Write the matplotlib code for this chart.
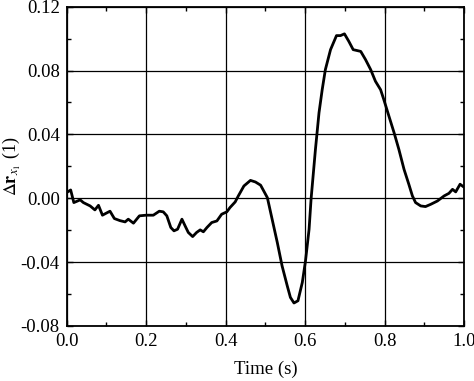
import matplotlib
matplotlib.use("Agg")
import matplotlib.pyplot as plt
from matplotlib.ticker import MultipleLocator

plt.rcParams['font.family'] = ['Liberation Serif', 'DejaVu Serif']
plt.rcParams['mathtext.fontset'] = 'stix'

time_s = [0.0, 0.01, 0.018, 0.034, 0.042, 0.059, 0.071, 0.08, 0.09, 0.099, 0.109,
          0.12, 0.134, 0.147, 0.155, 0.168, 0.183, 0.2, 0.218, 0.233, 0.243, 0.252,
          0.262, 0.27, 0.279, 0.29, 0.298, 0.306, 0.317, 0.327, 0.336, 0.344, 0.353,
          0.365, 0.378, 0.39, 0.403, 0.411, 0.424, 0.432, 0.446, 0.4625, 0.475, 0.488,
          0.505, 0.517, 0.53, 0.542, 0.555, 0.563, 0.572, 0.582, 0.593, 0.601, 0.61,
          0.615, 0.626, 0.635, 0.643, 0.651, 0.664, 0.679, 0.689, 0.699, 0.71, 0.721,
          0.74, 0.752, 0.765, 0.777, 0.79, 0.798, 0.811, 0.824, 0.836, 0.849, 0.861,
          0.87, 0.878, 0.891, 0.903, 0.916, 0.933, 0.95, 0.962, 0.971, 0.979, 0.99, 0.998]
delta_r = [0.0036, 0.0052, -0.0027, -0.001, -0.0027, -0.0048, -0.0073, -0.0044, -0.0106,
           -0.0094, -0.0081, -0.0127, -0.014, -0.0148, -0.0131, -0.0156, -0.011, -0.0106,
           -0.0106, -0.0081, -0.0085, -0.011, -0.0183, -0.0204, -0.0194, -0.0131, -0.0173,
           -0.0214, -0.024, -0.0214, -0.0198, -0.021, -0.0183, -0.0152, -0.0142, -0.01,
           -0.0085, -0.0058, -0.0023, 0.0015, 0.0077, 0.0112, 0.0102, 0.0082, 0.0004,
           -0.0131, -0.0277, -0.0423, -0.0548, -0.0621, -0.0656, -0.0642, -0.0527, -0.0392,
           -0.0194, -0.0006, 0.0306, 0.0536, 0.068, 0.0806, 0.0931, 0.1019, 0.1019, 0.103,
           0.0983, 0.0931, 0.092, 0.0869, 0.0806, 0.0733, 0.068, 0.0619, 0.0514, 0.041,
           0.0306, 0.0181, 0.0088, 0.0015, -0.0027, -0.0048, -0.0052, -0.0038, -0.0017,
           0.0015, 0.0031, 0.0056, 0.004, 0.0088, 0.0073]

x_ticks = [0.0, 0.2, 0.4, 0.6, 0.8, 1.0]
x_tick_labels = ["0.0", "0.2", "0.4", "0.6", "0.8", "1.0"]
y_ticks = [-0.08, -0.04, 0.00, 0.04, 0.08, 0.12]
y_tick_labels = ["-0.08", "-0.04", "0.00", "0.04", "0.08", "0.12"]

fig = plt.figure(figsize=(4.74, 3.81), dpi=100)
ax = fig.add_axes([0.1407, 0.1444, 0.979 - 0.1407, 0.9824 - 0.1444])

ax.plot(time_s, delta_r, color='black', lw=2.0, zorder=3)

ax.set_xlim(0, 1.0)
ax.set_ylim(-0.08, 0.12)
ax.set_xticks(x_ticks)
ax.set_xticklabels(x_tick_labels)
ax.set_yticks(y_ticks)
ax.set_yticklabels(y_tick_labels)
ax.xaxis.set_minor_locator(MultipleLocator(0.1))
ax.yaxis.set_minor_locator(MultipleLocator(0.02))
ax.tick_params(which='both', direction='in', top=True, right=True, labelsize=13.5,
               width=1.0, color='black')
ax.tick_params(which='major', length=4, pad=5)
ax.tick_params(which='minor', length=3)
ax.grid(True, which='major', color='black', lw=0.9)
for s in ax.spines.values():
    s.set_linewidth(1.3)

ax.set_xlabel('Time (s)', fontsize=13.5, labelpad=8)
ax.set_ylabel(r'$\Delta\mathbf{r}_{x_1}$ (1)', fontsize=13)
ax.yaxis.set_label_coords(-0.112, 0.5)

fig.savefig('out.png', dpi=100)
